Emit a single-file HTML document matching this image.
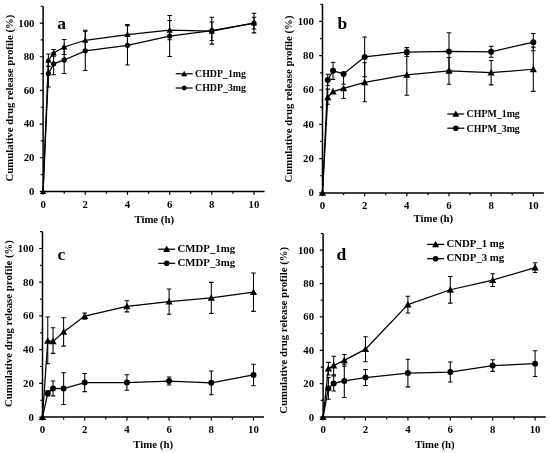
<!DOCTYPE html>
<html><head><meta charset="utf-8"><title>Cumulative drug release profiles</title>
<style>html,body{margin:0;padding:0;background:#fff}svg{display:block}
text{font-family:"Liberation Serif", serif;font-weight:bold;font-size:10.8px;fill:#000}.t{font-size:10.8px}</style></head>
<body><svg width="550" height="453" viewBox="0 0 550 453">
<rect width="550" height="453" fill="#fff"/>
<g><path d="M43.1 6.27V191.4H264.55" fill="none" stroke="#000" stroke-width="1.5"/>
<path d="M43.1 191.4h-3.3M43.1 174.57h-2.4M43.1 157.74h-3.3M43.1 140.91h-2.4M43.1 124.08h-3.3M43.1 107.25h-2.4M43.1 90.42h-3.3M43.1 73.59h-2.4M43.1 56.76h-3.3M43.1 39.93h-2.4M43.1 23.1h-3.3M43.1 6.27h-2.4M43.1 191.4v3.4M64.19 191.4v2.3M85.28 191.4v3.4M106.37 191.4v2.3M127.46 191.4v3.4M148.55 191.4v2.3M169.64 191.4v3.4M190.73 191.4v2.3M211.82 191.4v3.4M232.91 191.4v2.3M254 191.4v3.4" stroke="#000" stroke-width="1.2" fill="none"/>
<text x="34.5" y="194.8" text-anchor="end">0</text>
<text x="34.5" y="161.14" text-anchor="end">20</text>
<text x="34.5" y="127.48" text-anchor="end">40</text>
<text x="34.5" y="93.82" text-anchor="end">60</text>
<text x="34.5" y="60.16" text-anchor="end">80</text>
<text x="34.5" y="26.5" text-anchor="end">100</text>
<text x="43.1" y="207.9" text-anchor="middle">0</text>
<text x="85.28" y="207.9" text-anchor="middle">2</text>
<text x="127.46" y="207.9" text-anchor="middle">4</text>
<text x="169.64" y="207.9" text-anchor="middle">6</text>
<text x="211.82" y="207.9" text-anchor="middle">8</text>
<text x="254" y="207.9" text-anchor="middle">10</text>
<text x="154.22" y="222.7" class="t" text-anchor="middle">Time (h)</text>
<text transform="translate(13.2 98.04) rotate(-90)" class="t" text-anchor="middle">Cumulative drug release profile (%)</text>
<text x="57.3" y="29.3" style="font-size:17.5px">a</text>
<path d="M48.37 60.13V87.05M46.12 60.13h4.5M46.12 87.05h4.5M53.65 52.89V74.77M51.4 52.89h4.5M51.4 74.77h4.5M64.19 46.49V73.42M61.94 46.49h4.5M61.94 73.42h4.5M85.28 31.18V70.56M83.03 31.18h4.5M83.03 70.56h4.5M127.46 25.62V65.01M125.21 25.62h4.5M125.21 65.01h4.5M169.64 15.53V56.59M167.39 15.53h4.5M167.39 56.59h4.5M211.82 17.21V44.14M209.57 17.21h4.5M209.57 44.14h4.5M254 13.34V32.86M251.75 13.34h4.5M251.75 32.86h4.5" stroke="#000" stroke-width="1.05" fill="none"/>
<polyline points="43.1,191.4 48.37,73.59 53.65,63.83 64.19,59.96 85.28,50.87 127.46,45.32 169.64,36.06 211.82,30.67 254,23.1" fill="none" stroke="#000" stroke-width="1.25"/>
<circle cx="48.37" cy="73.59" r="2.61"/>
<circle cx="53.65" cy="63.83" r="2.61"/>
<circle cx="64.19" cy="59.96" r="2.61"/>
<circle cx="85.28" cy="50.87" r="2.61"/>
<circle cx="127.46" cy="45.32" r="2.61"/>
<circle cx="169.64" cy="36.06" r="2.61"/>
<circle cx="211.82" cy="30.67" r="2.61"/>
<circle cx="254" cy="23.1" r="2.61"/>
<path d="M48.37 53.9V66.35M46.12 53.9h4.5M46.12 66.35h4.5M53.65 49.52V56.26M51.4 49.52h4.5M51.4 56.26h4.5M64.19 39.59V54.4M61.94 39.59h4.5M61.94 54.4h4.5M85.28 30.17V50.36M83.03 30.17h4.5M83.03 50.36h4.5M127.46 24.45V44.64M125.21 24.45h4.5M125.21 44.64h4.5M169.64 20.58V39.76M167.39 20.58h4.5M167.39 39.76h4.5M211.82 21.92V40.43M209.57 21.92h4.5M209.57 40.43h4.5M254 17.21V28.99M251.75 17.21h4.5M251.75 28.99h4.5" stroke="#000" stroke-width="1.05" fill="none"/>
<polyline points="43.1,191.4 48.37,60.13 53.65,52.89 64.19,47 85.28,40.27 127.46,34.54 169.64,30.17 211.82,31.18 254,23.1" fill="none" stroke="#000" stroke-width="1.25"/>
<path d="M43.1 188.18L46.23 193.92H39.97Z"/>
<path d="M48.37 56.91L51.5 62.65H45.24Z"/>
<path d="M53.65 49.67L56.78 55.41H50.51Z"/>
<path d="M64.19 43.78L67.32 49.52H61.06Z"/>
<path d="M85.28 37.05L88.41 42.79H82.15Z"/>
<path d="M127.46 31.33L130.59 37.07H124.33Z"/>
<path d="M169.64 26.95L172.77 32.69H166.51Z"/>
<path d="M211.82 27.96L214.95 33.7H208.69Z"/>
<path d="M254 19.88L257.13 25.62H250.87Z"/>
<path d="M175.7 73.8h17" stroke="#000" stroke-width="1.25"/>
<path d="M184.2 70.67L187.24 76.24H181.16Z"/>
<text x="195" y="77.2" style="font-size:9.9px">CHDP_1mg</text>
<path d="M175.7 88h17" stroke="#000" stroke-width="1.25"/>
<circle cx="184.2" cy="88" r="2.44"/>
<text x="195" y="91.4" style="font-size:9.9px">CHDP_3mg</text></g>
<g><path d="M322.5 4.25V192.9H543.84" fill="none" stroke="#000" stroke-width="1.5"/>
<path d="M322.5 192.9h-3.3M322.5 175.75h-2.4M322.5 158.6h-3.3M322.5 141.45h-2.4M322.5 124.3h-3.3M322.5 107.15h-2.4M322.5 90h-3.3M322.5 72.85h-2.4M322.5 55.7h-3.3M322.5 38.55h-2.4M322.5 21.4h-3.3M322.5 4.25h-2.4M322.5 192.9v3.4M343.58 192.9v2.3M364.66 192.9v3.4M385.74 192.9v2.3M406.82 192.9v3.4M427.9 192.9v2.3M448.98 192.9v3.4M470.06 192.9v2.3M491.14 192.9v3.4M512.22 192.9v2.3M533.3 192.9v3.4" stroke="#000" stroke-width="1.2" fill="none"/>
<text x="313.9" y="196.3" text-anchor="end">0</text>
<text x="313.9" y="162" text-anchor="end">20</text>
<text x="313.9" y="127.7" text-anchor="end">40</text>
<text x="313.9" y="93.4" text-anchor="end">60</text>
<text x="313.9" y="59.1" text-anchor="end">80</text>
<text x="313.9" y="24.8" text-anchor="end">100</text>
<text x="322.5" y="209.4" text-anchor="middle">0</text>
<text x="364.66" y="209.4" text-anchor="middle">2</text>
<text x="406.82" y="209.4" text-anchor="middle">4</text>
<text x="448.98" y="209.4" text-anchor="middle">6</text>
<text x="491.14" y="209.4" text-anchor="middle">8</text>
<text x="533.3" y="209.4" text-anchor="middle">10</text>
<text x="433.27" y="221.5" class="t" text-anchor="middle">Time (h)</text>
<text transform="translate(291.5 98.98) rotate(-90)" class="t" text-anchor="middle">Cumulative drug release profile (%)</text>
<text x="337.5" y="29.4" style="font-size:17.5px">b</text>
<path d="M327.77 74.22V85.54M325.52 74.22h4.5M325.52 85.54h4.5M333.04 62.22V79.37M330.79 62.22h4.5M330.79 79.37h4.5M343.58 73.88V84.17M341.33 84.17h4.5M364.66 37.01V76.79M362.41 37.01h4.5M362.41 76.79h4.5M406.82 47.64V56.56M404.57 47.64h4.5M404.57 56.56h4.5M448.98 32.72V70.11M446.73 32.72h4.5M446.73 70.11h4.5M491.14 46.27V57.24M488.89 46.27h4.5M488.89 57.24h4.5M533.3 33.58V50.73M531.05 33.58h4.5M531.05 50.73h4.5" stroke="#000" stroke-width="1.05" fill="none"/>
<polyline points="322.5,192.9 327.77,79.88 333.04,70.79 343.58,73.88 364.66,56.9 406.82,52.1 448.98,51.41 491.14,51.76 533.3,42.15" fill="none" stroke="#000" stroke-width="1.25"/>
<circle cx="327.77" cy="79.88" r="3"/>
<circle cx="333.04" cy="70.79" r="3"/>
<circle cx="343.58" cy="73.88" r="3"/>
<circle cx="364.66" cy="56.9" r="3"/>
<circle cx="406.82" cy="52.1" r="3"/>
<circle cx="448.98" cy="51.41" r="3"/>
<circle cx="491.14" cy="51.76" r="3"/>
<circle cx="533.3" cy="42.15" r="3"/>
<path d="M327.77 89.14V104.23M325.52 89.14h4.5M325.52 104.23h4.5M343.58 88.46V98.58M341.33 98.58h4.5M364.66 62.73V101.83M362.41 62.73h4.5M362.41 101.83h4.5M406.82 54.5V95.32M404.57 54.5h4.5M404.57 95.32h4.5M448.98 57.59V84.34M446.73 57.59h4.5M446.73 84.34h4.5M491.14 60.5V84.86M488.89 60.5h4.5M488.89 84.86h4.5M533.3 47.12V91.37M531.05 47.12h4.5M531.05 91.37h4.5" stroke="#000" stroke-width="1.05" fill="none"/>
<polyline points="322.5,192.9 327.77,97.37 333.04,91.54 343.58,88.46 364.66,82.28 406.82,74.91 448.98,70.96 491.14,72.68 533.3,69.25" fill="none" stroke="#000" stroke-width="1.25"/>
<path d="M322.5 189.2L326.1 195.8H318.9Z"/>
<path d="M327.77 93.67L331.37 100.27H324.17Z"/>
<path d="M333.04 87.84L336.64 94.44H329.44Z"/>
<path d="M343.58 84.76L347.18 91.36H339.98Z"/>
<path d="M364.66 78.58L368.26 85.18H361.06Z"/>
<path d="M406.82 71.21L410.42 77.81H403.22Z"/>
<path d="M448.98 67.26L452.58 73.86H445.38Z"/>
<path d="M491.14 68.98L494.74 75.58H487.54Z"/>
<path d="M533.3 65.55L536.9 72.15H529.7Z"/>
<path d="M447.3 114h17" stroke="#000" stroke-width="1.25"/>
<path d="M455.8 110.4L459.3 116.8H452.3Z"/>
<text x="466.6" y="117.4" style="font-size:9.9px">CHPM_1mg</text>
<path d="M447.3 128.2h17" stroke="#000" stroke-width="1.25"/>
<circle cx="455.8" cy="128.2" r="2.8"/>
<text x="466.6" y="131.6" style="font-size:9.9px">CHPM_3mg</text></g>
<g><path d="M42.5 231.64V417.1H264.05" fill="none" stroke="#000" stroke-width="1.5"/>
<path d="M42.5 417.1h-3.3M42.5 400.24h-2.4M42.5 383.38h-3.3M42.5 366.52h-2.4M42.5 349.66h-3.3M42.5 332.8h-2.4M42.5 315.94h-3.3M42.5 299.08h-2.4M42.5 282.22h-3.3M42.5 265.36h-2.4M42.5 248.5h-3.3M42.5 231.64h-2.4M42.5 417.1v3.4M63.6 417.1v2.3M84.7 417.1v3.4M105.8 417.1v2.3M126.9 417.1v3.4M148 417.1v2.3M169.1 417.1v3.4M190.2 417.1v2.3M211.3 417.1v3.4M232.4 417.1v2.3M253.5 417.1v3.4" stroke="#000" stroke-width="1.2" fill="none"/>
<text x="33.9" y="420.5" text-anchor="end">0</text>
<text x="33.9" y="386.78" text-anchor="end">20</text>
<text x="33.9" y="353.06" text-anchor="end">40</text>
<text x="33.9" y="319.34" text-anchor="end">60</text>
<text x="33.9" y="285.62" text-anchor="end">80</text>
<text x="33.9" y="251.9" text-anchor="end">100</text>
<text x="42.5" y="432.5" text-anchor="middle">0</text>
<text x="84.7" y="432.5" text-anchor="middle">2</text>
<text x="126.9" y="432.5" text-anchor="middle">4</text>
<text x="169.1" y="432.5" text-anchor="middle">6</text>
<text x="211.3" y="432.5" text-anchor="middle">8</text>
<text x="253.5" y="432.5" text-anchor="middle">10</text>
<text x="153.18" y="448.4" class="t" text-anchor="middle">Time (h)</text>
<text transform="translate(12.3 323.57) rotate(-90)" class="t" text-anchor="middle">Cumulative drug release profile (%)</text>
<text x="57.5" y="259.8" style="font-size:17.5px">c</text>
<path d="M47.77 390.8V395.86M45.52 390.8h4.5M45.52 395.86h4.5M53.05 381.02V395.86M50.8 381.02h4.5M50.8 395.86h4.5M63.6 372.76V404.46M61.35 372.76h4.5M61.35 404.46h4.5M84.7 373.43V391.64M82.45 373.43h4.5M82.45 391.64h4.5M126.9 374.78V390.29M124.65 374.78h4.5M124.65 390.29h4.5M169.1 376.97V385.07M166.85 376.97h4.5M166.85 385.07h4.5M211.3 370.9V394.84M209.05 370.9h4.5M209.05 394.84h4.5M253.5 364.16V385.74M251.25 364.16h4.5M251.25 385.74h4.5" stroke="#000" stroke-width="1.05" fill="none"/>
<polyline points="42.5,417.1 47.77,393.33 53.05,388.44 63.6,388.61 84.7,382.54 126.9,382.54 169.1,381.02 211.3,382.87 253.5,374.95" fill="none" stroke="#000" stroke-width="1.25"/>
<circle cx="47.77" cy="393.33" r="3"/>
<circle cx="53.05" cy="388.44" r="3"/>
<circle cx="63.6" cy="388.61" r="3"/>
<circle cx="84.7" cy="382.54" r="3"/>
<circle cx="126.9" cy="382.54" r="3"/>
<circle cx="169.1" cy="381.02" r="3"/>
<circle cx="211.3" cy="382.87" r="3"/>
<circle cx="253.5" cy="374.95" r="3"/>
<path d="M47.77 316.95V363.65M45.52 316.95h4.5M45.52 363.65h4.5M53.05 327.74V353.37M50.8 327.74h4.5M50.8 353.37h4.5M63.6 317.79V346.12M61.35 317.79h4.5M61.35 346.12h4.5M84.7 312.91V319.31M82.45 312.91h4.5M82.45 319.31h4.5M126.9 300.77V311.89M124.65 300.77h4.5M124.65 311.89h4.5M169.1 288.96V314.25M166.85 288.96h4.5M166.85 314.25h4.5M211.3 282.39V313.41M209.05 282.39h4.5M209.05 313.41h4.5M253.5 272.95V311.39M251.25 272.95h4.5M251.25 311.39h4.5" stroke="#000" stroke-width="1.05" fill="none"/>
<polyline points="42.5,417.1 47.77,340.89 53.05,341.4 63.6,331.96 84.7,316.11 126.9,306.33 169.1,301.61 211.3,297.9 253.5,292.17" fill="none" stroke="#000" stroke-width="1.25"/>
<path d="M42.5 413.4L46.1 420H38.9Z"/>
<path d="M47.77 337.19L51.38 343.79H44.17Z"/>
<path d="M53.05 337.7L56.65 344.3H49.45Z"/>
<path d="M63.6 328.26L67.2 334.86H60Z"/>
<path d="M84.7 312.41L88.3 319.01H81.1Z"/>
<path d="M126.9 302.63L130.5 309.23H123.3Z"/>
<path d="M169.1 297.91L172.7 304.51H165.5Z"/>
<path d="M211.3 294.2L214.9 300.8H207.7Z"/>
<path d="M253.5 288.47L257.1 295.07H249.9Z"/>
<path d="M158.2 249.2h17" stroke="#000" stroke-width="1.25"/>
<path d="M166.7 245.6L170.2 252H163.2Z"/>
<text x="177.5" y="251.9" style="font-size:10.8px">CMDP_1mg</text>
<path d="M158.2 263.3h17" stroke="#000" stroke-width="1.25"/>
<circle cx="166.7" cy="263.3" r="2.8"/>
<text x="177.5" y="266" style="font-size:10.8px">CMDP_3mg</text></g>
<g><path d="M323.1 233.51V417.1H545.7" fill="none" stroke="#000" stroke-width="1.5"/>
<path d="M323.1 417.1h-3.3M323.1 400.41h-2.4M323.1 383.72h-3.3M323.1 367.03h-2.4M323.1 350.34h-3.3M323.1 333.65h-2.4M323.1 316.96h-3.3M323.1 300.27h-2.4M323.1 283.58h-3.3M323.1 266.89h-2.4M323.1 250.2h-3.3M323.1 233.51h-2.4M323.1 417.1v3.4M344.3 417.1v2.3M365.5 417.1v3.4M386.7 417.1v2.3M407.9 417.1v3.4M429.1 417.1v2.3M450.3 417.1v3.4M471.5 417.1v2.3M492.7 417.1v3.4M513.9 417.1v2.3M535.1 417.1v3.4" stroke="#000" stroke-width="1.2" fill="none"/>
<text x="314.1" y="420.5" text-anchor="end">0</text>
<text x="314.1" y="387.12" text-anchor="end">20</text>
<text x="314.1" y="353.74" text-anchor="end">40</text>
<text x="314.1" y="320.36" text-anchor="end">60</text>
<text x="314.1" y="286.98" text-anchor="end">80</text>
<text x="314.1" y="253.6" text-anchor="end">100</text>
<text x="323.1" y="433.2" text-anchor="middle">0</text>
<text x="365.5" y="433.2" text-anchor="middle">2</text>
<text x="407.9" y="433.2" text-anchor="middle">4</text>
<text x="450.3" y="433.2" text-anchor="middle">6</text>
<text x="492.7" y="433.2" text-anchor="middle">8</text>
<text x="535.1" y="433.2" text-anchor="middle">10</text>
<text x="434.8" y="448.4" class="t" text-anchor="middle">Time (h)</text>
<text transform="translate(287.2 330.31) rotate(-90)" class="t" text-anchor="middle">Cumulative drug release profile (%)</text>
<text x="336.5" y="259.8" style="font-size:17.5px">d</text>
<path d="M328.4 377.54V399.24M326.15 377.54h4.5M326.15 399.24h4.5M333.7 375.88V390.9M331.45 375.88h4.5M331.45 390.9h4.5M344.3 364.19V397.57M342.05 364.19h4.5M342.05 397.57h4.5M365.5 369.53V385.56M363.25 369.53h4.5M363.25 385.56h4.5M407.9 359.19V386.89M405.65 359.19h4.5M405.65 386.89h4.5M450.3 362.02V382.05M448.05 362.02h4.5M448.05 382.05h4.5M492.7 359.69V371.37M490.45 359.69h4.5M490.45 371.37h4.5M535.1 350.84V376.54M532.85 350.84h4.5M532.85 376.54h4.5" stroke="#000" stroke-width="1.05" fill="none"/>
<polyline points="323.1,417.1 328.4,388.39 333.7,383.39 344.3,380.88 365.5,377.54 407.9,373.04 450.3,372.04 492.7,365.53 535.1,363.69" fill="none" stroke="#000" stroke-width="1.25"/>
<circle cx="328.4" cy="388.39" r="3"/>
<circle cx="333.7" cy="383.39" r="3"/>
<circle cx="344.3" cy="380.88" r="3"/>
<circle cx="365.5" cy="377.54" r="3"/>
<circle cx="407.9" cy="373.04" r="3"/>
<circle cx="450.3" cy="372.04" r="3"/>
<circle cx="492.7" cy="365.53" r="3"/>
<circle cx="535.1" cy="363.69" r="3"/>
<path d="M328.4 362.36V375.04M326.15 362.36h4.5M326.15 375.04h4.5M333.7 356.18V374.87M331.45 356.18h4.5M331.45 374.87h4.5M344.3 354.51V366.2M342.05 354.51h4.5M342.05 366.2h4.5M365.5 336.65V361.69M363.25 336.65h4.5M363.25 361.69h4.5M407.9 296.26V312.95M405.65 296.26h4.5M405.65 312.95h4.5M450.3 276.4V303.11M448.05 276.4h4.5M448.05 303.11h4.5M492.7 273.73V286.42M490.45 273.73h4.5M490.45 286.42h4.5M535.1 262.72V272.4M532.85 262.72h4.5M532.85 272.4h4.5" stroke="#000" stroke-width="1.05" fill="none"/>
<polyline points="323.1,417.1 328.4,368.7 333.7,365.53 344.3,360.35 365.5,349.17 407.9,304.61 450.3,289.76 492.7,280.08 535.1,267.56" fill="none" stroke="#000" stroke-width="1.25"/>
<path d="M323.1 413.4L326.7 420H319.5Z"/>
<path d="M328.4 365L332 371.6H324.8Z"/>
<path d="M333.7 361.83L337.3 368.43H330.1Z"/>
<path d="M344.3 356.65L347.9 363.25H340.7Z"/>
<path d="M365.5 345.47L369.1 352.07H361.9Z"/>
<path d="M407.9 300.91L411.5 307.51H404.3Z"/>
<path d="M450.3 286.06L453.9 292.66H446.7Z"/>
<path d="M492.7 276.38L496.3 282.98H489.1Z"/>
<path d="M535.1 263.86L538.7 270.46H531.5Z"/>
<path d="M427.1 244.4h17" stroke="#000" stroke-width="1.25"/>
<path d="M435.6 240.8L439.1 247.2H432.1Z"/>
<text x="446.4" y="247.1" style="font-size:10.8px">CNDP_1 mg</text>
<path d="M427.1 258.7h17" stroke="#000" stroke-width="1.25"/>
<circle cx="435.6" cy="258.7" r="2.8"/>
<text x="446.4" y="261.4" style="font-size:10.8px">CNDP_3 mg</text></g>
</svg></body></html>
